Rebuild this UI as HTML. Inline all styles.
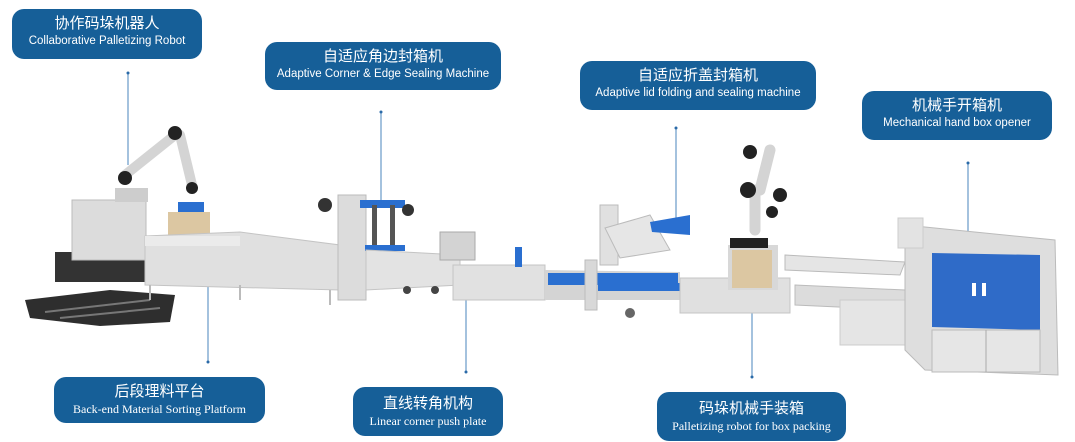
<!DOCTYPE html>
<html><head><meta charset="utf-8"><style>
html,body{margin:0;padding:0;background:#fff;}
body{width:1075px;height:442px;position:relative;overflow:hidden;}
.lb{position:absolute;background:#165f98;border-radius:12px;color:#fff;text-align:center;box-sizing:border-box;}
.lb .c{font-family:"Liberation Sans","Noto Sans CJK SC",sans-serif;font-size:15px;line-height:18px;margin-top:6px;}
.lb .e{font-family:"Liberation Sans",sans-serif;font-size:11.5px;line-height:16px;}
.lb .s{font-family:"Liberation Serif",serif;font-size:12px;line-height:16px;}
svg{position:absolute;left:0;top:0;}
</style></head><body>
<svg width="1075" height="442" viewBox="0 0 1075 442">
<!-- leader lines -->
<g stroke="#4a86bd" stroke-width="1">
<line x1="128" y1="73" x2="128" y2="165"/>
<line x1="381" y1="112" x2="381" y2="205"/>
<line x1="676" y1="128" x2="676" y2="222"/>
<line x1="968" y1="163" x2="968" y2="300"/>
<line x1="208" y1="248" x2="208" y2="362"/>
<line x1="466" y1="285" x2="466" y2="372"/>
<line x1="752" y1="290" x2="752" y2="377"/>
</g>
<g fill="#2a6aa8"><circle cx="128" cy="73" r="1.5"/><circle cx="381" cy="112" r="1.5"/><circle cx="676" cy="128" r="1.5"/><circle cx="968" cy="163" r="1.5"/><circle cx="208" cy="362" r="1.5"/><circle cx="466" cy="372" r="1.5"/><circle cx="752" cy="377" r="1.5"/></g>
<!-- left pallet -->
<polygon points="25,300 110,290 175,295 170,322 100,326 30,318" fill="#2e2e2e"/>
<g stroke="#777" stroke-width="2"><line x1="45" y1="312" x2="150" y2="300"/><line x1="60" y1="318" x2="160" y2="308"/></g>
<rect x="55" y="252" width="130" height="30" fill="#333"/>
<!-- left cabinet -->
<rect x="72" y="200" width="74" height="60" fill="#dcdcdc" stroke="#bbb"/>
<rect x="115" y="188" width="33" height="14" fill="#cdcdcd"/>
<!-- robot 1 -->
<g stroke="#d4d4d4" stroke-width="10" stroke-linecap="round" fill="none">
<line x1="125" y1="175" x2="175" y2="135"/><line x1="180" y1="135" x2="192" y2="185"/></g>
<circle cx="125" cy="178" r="7" fill="#222"/><circle cx="175" cy="133" r="7" fill="#222"/><circle cx="192" cy="188" r="6" fill="#222"/>
<rect x="178" y="202" width="26" height="12" fill="#2a6fd0"/>
<rect x="168" y="212" width="42" height="28" fill="#dcc7a2"/>
<!-- conveyor 1 -->
<polygon points="145,236 240,232 340,245 340,290 145,285" fill="#e0e0e0" stroke="#c4c4c4"/>
<rect x="145" y="236" width="95" height="10" fill="#ebebeb"/>
<g stroke="#bbb" stroke-width="2"><line x1="150" y1="285" x2="150" y2="300"/><line x1="240" y1="285" x2="240" y2="300"/><line x1="330" y1="290" x2="330" y2="305"/></g>
<!-- sealing machine 1 -->
<rect x="338" y="195" width="28" height="105" fill="#dcdcdc" stroke="#bbb"/>
<rect x="360" y="200" width="45" height="8" fill="#2a6fd0"/>
<rect x="372" y="205" width="5" height="55" fill="#555"/>
<rect x="390" y="205" width="5" height="55" fill="#555"/>
<circle cx="325" cy="205" r="7" fill="#333"/><circle cx="408" cy="210" r="6" fill="#333"/>
<rect x="365" y="245" width="40" height="6" fill="#2a6fd0"/>
<polygon points="366,250 460,255 460,285 366,290" fill="#e3e3e3" stroke="#c4c4c4"/>
<rect x="440" y="232" width="35" height="28" fill="#d3d3d3" stroke="#aaa"/>
<circle cx="407" cy="290" r="4" fill="#444"/><circle cx="435" cy="290" r="4" fill="#444"/>
<!-- conveyor 2 -->
<polygon points="453,265 545,265 545,300 453,300" fill="#e1e1e1" stroke="#c4c4c4"/>
<rect x="515" y="247" width="7" height="20" fill="#2a6fd0"/>
<!-- blue conveyor / folding -->
<polygon points="545,270 680,272 680,300 545,300" fill="#d4d4d4"/>
<rect x="548" y="273" width="130" height="12" fill="#2a6fd0"/>
<rect x="598" y="283" width="85" height="8" fill="#2a6fd0"/>
<rect x="585" y="260" width="12" height="50" fill="#d8d8d8" stroke="#bbb"/>
<rect x="600" y="205" width="18" height="60" fill="#e0e0e0" stroke="#bbb"/>
<polygon points="605,228 650,215 670,250 620,258" fill="#e6e6e6" stroke="#bbb"/>
<polygon points="650,222 690,215 690,235 652,232" fill="#2a6fd0"/>
<circle cx="630" cy="313" r="5" fill="#666"/>
<!-- conveyor 3 + robot 2 -->
<rect x="680" y="278" width="110" height="35" fill="#e0e0e0" stroke="#c4c4c4"/>
<rect x="728" y="245" width="50" height="45" fill="#d8d8d8"/>
<rect x="732" y="250" width="40" height="38" fill="#dcc7a2"/>
<rect x="730" y="238" width="38" height="10" fill="#222"/>
<g stroke="#d4d4d4" stroke-width="11" stroke-linecap="round" fill="none"><line x1="755" y1="230" x2="755" y2="190"/><line x1="760" y1="190" x2="770" y2="150"/></g>
<circle cx="748" cy="190" r="8" fill="#222"/><circle cx="750" cy="152" r="7" fill="#222"/><circle cx="780" cy="195" r="7" fill="#222"/><circle cx="772" cy="212" r="6" fill="#222"/>
<!-- chute -->
<polygon points="785,255 905,262 900,275 785,270" fill="#e5e5e5" stroke="#bbb"/>
<polygon points="795,285 905,290 905,310 795,305" fill="#dcdcdc" stroke="#bbb"/>
<rect x="840" y="300" width="65" height="45" fill="#e5e5e5" stroke="#ccc"/>
<!-- right machine -->
<polygon points="905,225 1055,240 1058,375 925,370 905,350" fill="#dedede" stroke="#bbb"/>
<rect x="898" y="218" width="25" height="30" fill="#e3e3e3" stroke="#ccc"/>
<polygon points="932,253 1040,255 1040,330 932,327" fill="#2f6bc8"/>
<rect x="932" y="330" width="108" height="42" fill="#e6e6e6" stroke="#bbb"/>
<line x1="986" y1="330" x2="986" y2="372" stroke="#aaa"/>
<rect x="972" y="283" width="4" height="13" fill="#fff"/><rect x="982" y="283" width="4" height="13" fill="#fff"/>
</svg>
<div class="lb" style="left:12px;top:9px;width:190px;height:50px;"><div class="c">协作码垛机器人</div><div class="e">Collaborative Palletizing Robot</div></div>
<div class="lb" style="left:265px;top:42px;width:236px;height:48px;"><div class="c">自适应角边封箱机</div><div class="e">Adaptive Corner &amp; Edge Sealing Machine</div></div>
<div class="lb" style="left:580px;top:61px;width:236px;height:49px;"><div class="c">自适应折盖封箱机</div><div class="e">Adaptive lid folding and sealing machine</div></div>
<div class="lb" style="left:862px;top:91px;width:190px;height:49px;"><div class="c">机械手开箱机</div><div class="e">Mechanical hand box opener</div></div>
<div class="lb" style="left:54px;top:377px;width:211px;height:46px;"><div class="c">后段理料平台</div><div class="s">Back-end Material Sorting Platform</div></div>
<div class="lb" style="left:353px;top:387px;width:150px;height:49px;"><div class="c" style="margin-top:8px">直线转角机构</div><div class="s">Linear corner push plate</div></div>
<div class="lb" style="left:657px;top:392px;width:189px;height:49px;"><div class="c" style="margin-top:8px">码垛机械手装箱</div><div class="s">Palletizing robot for box packing</div></div>
</body></html>
